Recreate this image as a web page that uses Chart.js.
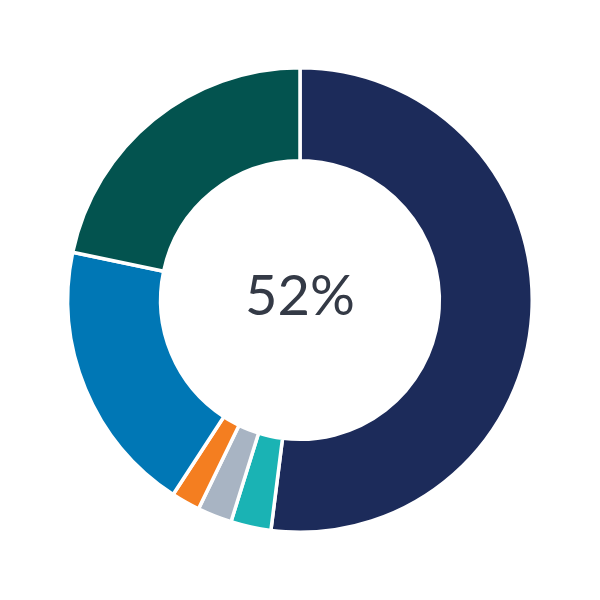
<!DOCTYPE html>
<html><head><meta charset="utf-8">
<script src="https://cdn.jsdelivr.net/npm/chart.js@4"></script>
<style>html,body{margin:0;padding:0;background:#fff}#wrap{width:600px;height:600px}</style>
</head><body><div id="wrap"><canvas id="c" width="600" height="600"></canvas></div>
<script>
const categories = ["Navy", "Teal", "Gray", "Orange", "Blue", "Dark green"];
const values = [52, 2.8, 2.4, 2.0, 19.1, 21.7];
const colors = ["#1c2b5a", "#1ab3b4", "#a8b4c3", "#f47e20", "#0077b5", "#03534f"];
const centerLabel = "52%";

const centerText = {
  id: 'centerText',
  afterDraw(chart) {
    const {ctx} = chart;
    const m = chart.getDatasetMeta(0).data[0];
    ctx.save();
    ctx.font = '400 56px Lato';
    ctx.fillStyle = '#343a46';
    ctx.textAlign = 'center';
    ctx.textBaseline = 'middle';
    ctx.fillText(centerLabel, m.x, m.y - 3);
    ctx.restore();
  }
};

new Chart(document.getElementById('c'), {
  type: 'doughnut',
  data: { labels: categories, datasets: [{ data: values, backgroundColor: colors, borderColor: '#ffffff', borderWidth: 3.5 }] },
  options: {
    responsive: false, animation: false, cutout: '60%',
    layout: { padding: 66 },
    plugins: { legend: { display: false }, tooltip: { enabled: false } }
  },
  plugins: [centerText]
});
</script></body></html>
